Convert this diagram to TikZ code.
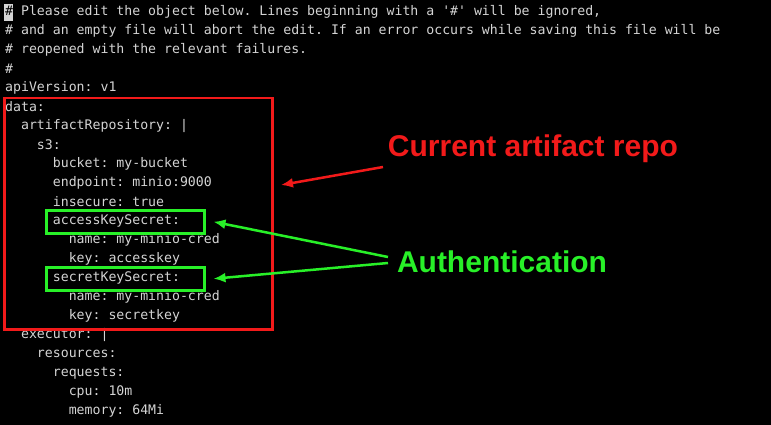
\documentclass[tikz,border=0pt]{standalone}
\usepackage{fontspec}
\setmonofont{DejaVu Sans Mono}
\setsansfont{Liberation Sans}
\usetikzlibrary{arrows.meta}
\definecolor{termgray}{HTML}{D4D4D4}
\definecolor{myred}{HTML}{F21A1A}
\definecolor{mygreen}{HTML}{28F028}
\begin{document}
\begin{tikzpicture}[x=1pt,y=-1pt,
  code/.style={anchor=west,inner sep=0pt,text=termgray,font=\ttfamily\fontsize{13.2}{13.2}\selectfont},
  redbox/.style={draw=myred,line width=2.5pt},
  greenbox/.style={draw=mygreen,line width=2.5pt},
  lab/.style={font=\sffamily\bfseries\fontsize{30}{30}\selectfont,inner sep=0pt},
  arr/.style={line width=2.5pt,-{Latex[length=12pt,width=10pt]}}]
\fill[black] (0,0) rectangle (771,425);
\useasboundingbox (0,0) rectangle (771,425);
\fill[termgray] (4,4) rectangle (12.5,21);
\foreach \t [count=\i from 0] in {%
{\textcolor{black}{\#} Please edit the object below. Lines beginning with a '\#' will be ignored,},
{\# and an empty file will abort the edit. If an error occurs while saving this file will be},
{\# reopened with the relevant failures.},
{\#},
{apiVersion: v1},
{data:},
{\ \ artifactRepository: |},
{\ \ \ \ s3:},
{\ \ \ \ \ \ bucket: my-bucket},
{\ \ \ \ \ \ endpoint: minio:9000},
{\ \ \ \ \ \ insecure: true},
{\ \ \ \ \ \ accessKeySecret:},
{\ \ \ \ \ \ \ \ name: my-minio-cred},
{\ \ \ \ \ \ \ \ key: accesskey},
{\ \ \ \ \ \ secretKeySecret:},
{\ \ \ \ \ \ \ \ name: my-minio-cred},
{\ \ \ \ \ \ \ \ key: secretkey},
{\ \ executor: |},
{\ \ \ \ resources:},
{\ \ \ \ \ \ requests:},
{\ \ \ \ \ \ \ \ cpu: 10m},
{\ \ \ \ \ \ \ \ memory: 64Mi}}
  \node[code] (l\i) at (5,{12+19*\i}) {\t};
\node[redbox,minimum width=268pt,minimum height=231pt,anchor=north west] (rb) at (3,97) {};
\node[greenbox,minimum width=158pt,minimum height=23pt,anchor=north west] (g1) at (45,209) {};
\node[greenbox,minimum width=158pt,minimum height=23pt,anchor=north west] (g2) at (45,266) {};
\node[lab,text=myred] (cur) at (533,149) {Current artifact repo};
\node[lab,text=mygreen] (auth) at (502,262) {Authentication};
\coordinate (ca) at (383,167);
\coordinate (aa) at (388,257);
\coordinate (ab) at (388,263);
\coordinate (rt) at (281,185);
\draw[arr,myred] (ca) -- (rt);
\draw[arr,mygreen] (aa) -- ([xshift=8pt]g1.east);
\draw[arr,mygreen] (ab) -- ([xshift=8pt]g2.east);
\end{tikzpicture}
\end{document}
